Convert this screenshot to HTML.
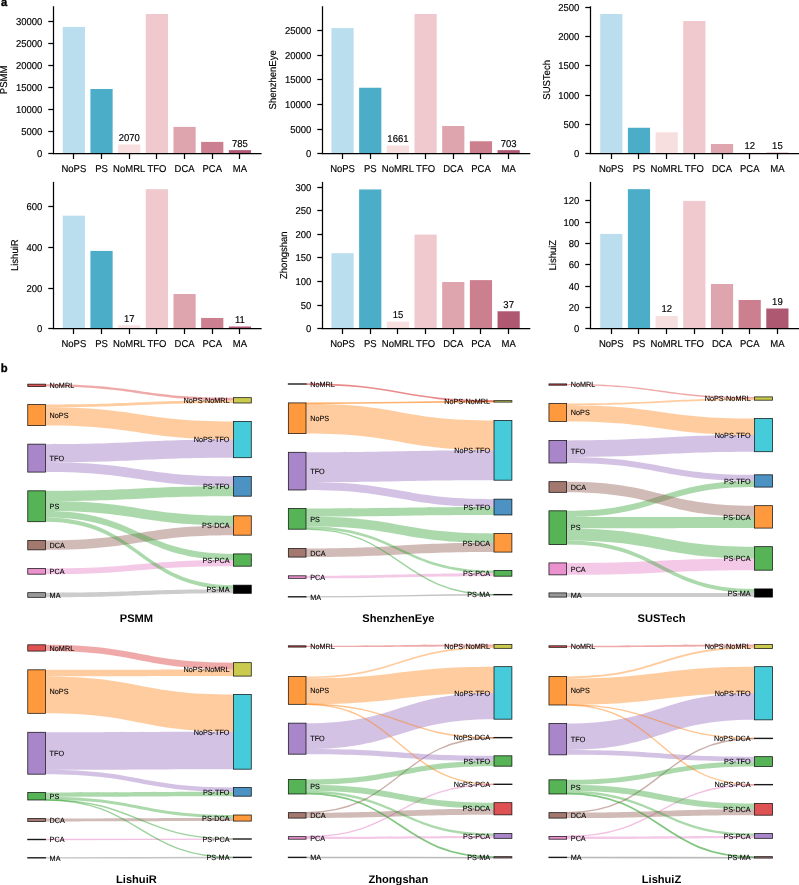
<!DOCTYPE html>
<html><head><meta charset="utf-8"><style>
html,body{margin:0;padding:0;background:#fff;width:799px;height:885px;overflow:hidden}
svg{display:block;will-change:transform}
text{text-rendering:geometricPrecision}
.t{font-family:"Liberation Sans", sans-serif;font-size:9.5px;fill:#000;stroke:#000;stroke-width:0.15}
.s{font-family:"Liberation Sans", sans-serif;font-size:7.25px;fill:#000;stroke:#000;stroke-width:0.1}
.tt{font-family:"Liberation Sans", sans-serif;font-size:11.1px;font-weight:bold;fill:#000}
.pl{font-family:"Liberation Sans", sans-serif;font-size:11.2px;font-weight:bold;fill:#000;stroke:#000;stroke-width:0.35}
.ax{stroke:#000;stroke-width:1.25;fill:none}
.nd{stroke:#000;stroke-opacity:0.85;stroke-width:0.8}
</style></head><body>
<svg width="799" height="885" viewBox="0 0 799 885">
<rect width="799" height="885" fill="#fff"/>
<rect x="62.75" y="26.89" width="22.2" height="126.61" fill="#badeed"/>
<rect x="90.43" y="89" width="22.2" height="64.5" fill="#4badc7"/>
<rect x="118.11" y="144.49" width="22.2" height="9.01" fill="#f8dfdf"/>
<text transform="translate(129.21,140.99) scale(1,1.05)" text-anchor="middle" class="t">2070</text>
<rect x="145.79" y="13.99" width="22.2" height="139.51" fill="#efc9cd"/>
<rect x="173.47" y="126.9" width="22.2" height="26.6" fill="#dfa5ae"/>
<rect x="201.15" y="141.9" width="22.2" height="11.6" fill="#cc7f8f"/>
<rect x="228.83" y="150.14" width="22.2" height="3.36" fill="#ae5872"/>
<text transform="translate(239.93,146.64) scale(1,1.05)" text-anchor="middle" class="t">785</text>
<line x1="53.5" y1="6.25" x2="53.5" y2="154.12" class="ax"/>
<line x1="52.88" y1="153.5" x2="261.61" y2="153.5" class="ax"/>
<line x1="48.3" y1="153.5" x2="53.5" y2="153.5" class="ax"/>
<text transform="translate(42.3,156.9) scale(1,1.05)" text-anchor="end" class="t">0</text>
<line x1="48.3" y1="131.5" x2="53.5" y2="131.5" class="ax"/>
<text transform="translate(42.3,134.9) scale(1,1.05)" text-anchor="end" class="t">5000</text>
<line x1="48.3" y1="109.5" x2="53.5" y2="109.5" class="ax"/>
<text transform="translate(42.3,112.9) scale(1,1.05)" text-anchor="end" class="t">10000</text>
<line x1="48.3" y1="87.5" x2="53.5" y2="87.5" class="ax"/>
<text transform="translate(42.3,90.9) scale(1,1.05)" text-anchor="end" class="t">15000</text>
<line x1="48.3" y1="65.5" x2="53.5" y2="65.5" class="ax"/>
<text transform="translate(42.3,68.9) scale(1,1.05)" text-anchor="end" class="t">20000</text>
<line x1="48.3" y1="43.5" x2="53.5" y2="43.5" class="ax"/>
<text transform="translate(42.3,46.9) scale(1,1.05)" text-anchor="end" class="t">25000</text>
<line x1="48.3" y1="21.5" x2="53.5" y2="21.5" class="ax"/>
<text transform="translate(42.3,24.9) scale(1,1.05)" text-anchor="end" class="t">30000</text>
<line x1="73.5" y1="153.5" x2="73.5" y2="159" class="ax"/>
<text transform="translate(73.85,172) scale(1,1.05)" text-anchor="middle" class="t">NoPS</text>
<line x1="101.5" y1="153.5" x2="101.5" y2="159" class="ax"/>
<text transform="translate(101.53,172) scale(1,1.05)" text-anchor="middle" class="t">PS</text>
<line x1="129.5" y1="153.5" x2="129.5" y2="159" class="ax"/>
<text transform="translate(129.21,172) scale(1,1.05)" text-anchor="middle" class="t">NoMRL</text>
<line x1="156.5" y1="153.5" x2="156.5" y2="159" class="ax"/>
<text transform="translate(156.89,172) scale(1,1.05)" text-anchor="middle" class="t">TFO</text>
<line x1="184.5" y1="153.5" x2="184.5" y2="159" class="ax"/>
<text transform="translate(184.57,172) scale(1,1.05)" text-anchor="middle" class="t">DCA</text>
<line x1="212.5" y1="153.5" x2="212.5" y2="159" class="ax"/>
<text transform="translate(212.25,172) scale(1,1.05)" text-anchor="middle" class="t">PCA</text>
<line x1="239.5" y1="153.5" x2="239.5" y2="159" class="ax"/>
<text transform="translate(239.93,172) scale(1,1.05)" text-anchor="middle" class="t">MA</text>
<text transform="translate(6.5,79.88) rotate(-90) scale(1,1.05)" text-anchor="middle" class="t">PSMM</text>
<rect x="331.45" y="28.1" width="22.2" height="125.4" fill="#badeed"/>
<rect x="359.13" y="87.75" width="22.2" height="65.75" fill="#4badc7"/>
<rect x="386.81" y="145.43" width="22.2" height="8.07" fill="#f8dfdf"/>
<text transform="translate(397.91,141.93) scale(1,1.05)" text-anchor="middle" class="t">1661</text>
<rect x="414.49" y="14" width="22.2" height="139.5" fill="#efc9cd"/>
<rect x="442.17" y="126" width="22.2" height="27.5" fill="#dfa5ae"/>
<rect x="469.85" y="141.25" width="22.2" height="12.25" fill="#cc7f8f"/>
<rect x="497.53" y="150.14" width="22.2" height="3.36" fill="#ae5872"/>
<text transform="translate(508.63,146.64) scale(1,1.05)" text-anchor="middle" class="t">703</text>
<line x1="322.5" y1="6.25" x2="322.5" y2="154.12" class="ax"/>
<line x1="321.88" y1="153.5" x2="530.31" y2="153.5" class="ax"/>
<line x1="317.3" y1="153.5" x2="322.5" y2="153.5" class="ax"/>
<text transform="translate(311.3,156.9) scale(1,1.05)" text-anchor="end" class="t">0</text>
<line x1="317.3" y1="129.5" x2="322.5" y2="129.5" class="ax"/>
<text transform="translate(311.3,132.9) scale(1,1.05)" text-anchor="end" class="t">5000</text>
<line x1="317.3" y1="104.5" x2="322.5" y2="104.5" class="ax"/>
<text transform="translate(311.3,107.9) scale(1,1.05)" text-anchor="end" class="t">10000</text>
<line x1="317.3" y1="79.5" x2="322.5" y2="79.5" class="ax"/>
<text transform="translate(311.3,82.9) scale(1,1.05)" text-anchor="end" class="t">15000</text>
<line x1="317.3" y1="55.5" x2="322.5" y2="55.5" class="ax"/>
<text transform="translate(311.3,58.9) scale(1,1.05)" text-anchor="end" class="t">20000</text>
<line x1="317.3" y1="30.5" x2="322.5" y2="30.5" class="ax"/>
<text transform="translate(311.3,33.9) scale(1,1.05)" text-anchor="end" class="t">25000</text>
<line x1="342.5" y1="153.5" x2="342.5" y2="159" class="ax"/>
<text transform="translate(342.55,172) scale(1,1.05)" text-anchor="middle" class="t">NoPS</text>
<line x1="370.5" y1="153.5" x2="370.5" y2="159" class="ax"/>
<text transform="translate(370.23,172) scale(1,1.05)" text-anchor="middle" class="t">PS</text>
<line x1="397.5" y1="153.5" x2="397.5" y2="159" class="ax"/>
<text transform="translate(397.91,172) scale(1,1.05)" text-anchor="middle" class="t">NoMRL</text>
<line x1="425.5" y1="153.5" x2="425.5" y2="159" class="ax"/>
<text transform="translate(425.59,172) scale(1,1.05)" text-anchor="middle" class="t">TFO</text>
<line x1="453.5" y1="153.5" x2="453.5" y2="159" class="ax"/>
<text transform="translate(453.27,172) scale(1,1.05)" text-anchor="middle" class="t">DCA</text>
<line x1="480.5" y1="153.5" x2="480.5" y2="159" class="ax"/>
<text transform="translate(480.95,172) scale(1,1.05)" text-anchor="middle" class="t">PCA</text>
<line x1="508.5" y1="153.5" x2="508.5" y2="159" class="ax"/>
<text transform="translate(508.63,172) scale(1,1.05)" text-anchor="middle" class="t">MA</text>
<text transform="translate(276.3,79.88) rotate(-90) scale(1,1.05)" text-anchor="middle" class="t">ShenzhenEye</text>
<rect x="600.2" y="13.99" width="22.2" height="139.51" fill="#badeed"/>
<rect x="627.88" y="127.77" width="22.2" height="25.73" fill="#4badc7"/>
<rect x="655.56" y="132.27" width="22.2" height="21.23" fill="#f8dfdf"/>
<rect x="683.24" y="21" width="22.2" height="132.5" fill="#efc9cd"/>
<rect x="710.92" y="144.02" width="22.2" height="9.48" fill="#dfa5ae"/>
<rect x="738.6" y="152.9" width="22.2" height="0.6" fill="#cc7f8f"/>
<text transform="translate(749.7,149.4) scale(1,1.05)" text-anchor="middle" class="t">12</text>
<rect x="766.28" y="152.72" width="22.2" height="0.78" fill="#ae5872"/>
<text transform="translate(777.38,149.22) scale(1,1.05)" text-anchor="middle" class="t">15</text>
<line x1="590.5" y1="6.25" x2="590.5" y2="154.12" class="ax"/>
<line x1="589.88" y1="153.5" x2="799.06" y2="153.5" class="ax"/>
<line x1="585.3" y1="153.5" x2="590.5" y2="153.5" class="ax"/>
<text transform="translate(579.3,156.9) scale(1,1.05)" text-anchor="end" class="t">0</text>
<line x1="585.3" y1="124.5" x2="590.5" y2="124.5" class="ax"/>
<text transform="translate(579.3,127.9) scale(1,1.05)" text-anchor="end" class="t">500</text>
<line x1="585.3" y1="95.5" x2="590.5" y2="95.5" class="ax"/>
<text transform="translate(579.3,98.9) scale(1,1.05)" text-anchor="end" class="t">1000</text>
<line x1="585.3" y1="65.5" x2="590.5" y2="65.5" class="ax"/>
<text transform="translate(579.3,68.9) scale(1,1.05)" text-anchor="end" class="t">1500</text>
<line x1="585.3" y1="36.5" x2="590.5" y2="36.5" class="ax"/>
<text transform="translate(579.3,39.9) scale(1,1.05)" text-anchor="end" class="t">2000</text>
<line x1="585.3" y1="7.5" x2="590.5" y2="7.5" class="ax"/>
<text transform="translate(579.3,10.9) scale(1,1.05)" text-anchor="end" class="t">2500</text>
<line x1="611.5" y1="153.5" x2="611.5" y2="159" class="ax"/>
<text transform="translate(611.3,172) scale(1,1.05)" text-anchor="middle" class="t">NoPS</text>
<line x1="638.5" y1="153.5" x2="638.5" y2="159" class="ax"/>
<text transform="translate(638.98,172) scale(1,1.05)" text-anchor="middle" class="t">PS</text>
<line x1="666.5" y1="153.5" x2="666.5" y2="159" class="ax"/>
<text transform="translate(666.66,172) scale(1,1.05)" text-anchor="middle" class="t">NoMRL</text>
<line x1="694.5" y1="153.5" x2="694.5" y2="159" class="ax"/>
<text transform="translate(694.34,172) scale(1,1.05)" text-anchor="middle" class="t">TFO</text>
<line x1="722.5" y1="153.5" x2="722.5" y2="159" class="ax"/>
<text transform="translate(722.02,172) scale(1,1.05)" text-anchor="middle" class="t">DCA</text>
<line x1="749.5" y1="153.5" x2="749.5" y2="159" class="ax"/>
<text transform="translate(749.7,172) scale(1,1.05)" text-anchor="middle" class="t">PCA</text>
<line x1="777.5" y1="153.5" x2="777.5" y2="159" class="ax"/>
<text transform="translate(777.38,172) scale(1,1.05)" text-anchor="middle" class="t">MA</text>
<text transform="translate(550,79.88) rotate(-90) scale(1,1.05)" text-anchor="middle" class="t">SUSTech</text>
<rect x="62.75" y="215.67" width="22.2" height="112.83" fill="#badeed"/>
<rect x="90.43" y="250.92" width="22.2" height="77.58" fill="#4badc7"/>
<rect x="118.11" y="325.29" width="22.2" height="3.21" fill="#f8dfdf"/>
<text transform="translate(129.21,321.79) scale(1,1.05)" text-anchor="middle" class="t">17</text>
<rect x="145.79" y="189.18" width="22.2" height="139.32" fill="#efc9cd"/>
<rect x="173.47" y="294.01" width="22.2" height="34.49" fill="#dfa5ae"/>
<rect x="201.15" y="317.95" width="22.2" height="10.55" fill="#cc7f8f"/>
<rect x="228.83" y="326.51" width="22.2" height="1.99" fill="#ae5872"/>
<text transform="translate(239.93,323.01) scale(1,1.05)" text-anchor="middle" class="t">11</text>
<line x1="53.5" y1="181.9" x2="53.5" y2="329.12" class="ax"/>
<line x1="52.88" y1="328.5" x2="261.61" y2="328.5" class="ax"/>
<line x1="48.3" y1="328.5" x2="53.5" y2="328.5" class="ax"/>
<text transform="translate(42.3,331.9) scale(1,1.05)" text-anchor="end" class="t">0</text>
<line x1="48.3" y1="288.5" x2="53.5" y2="288.5" class="ax"/>
<text transform="translate(42.3,291.9) scale(1,1.05)" text-anchor="end" class="t">200</text>
<line x1="48.3" y1="247.5" x2="53.5" y2="247.5" class="ax"/>
<text transform="translate(42.3,250.9) scale(1,1.05)" text-anchor="end" class="t">400</text>
<line x1="48.3" y1="206.5" x2="53.5" y2="206.5" class="ax"/>
<text transform="translate(42.3,209.9) scale(1,1.05)" text-anchor="end" class="t">600</text>
<line x1="73.5" y1="328.5" x2="73.5" y2="334" class="ax"/>
<text transform="translate(73.85,347) scale(1,1.05)" text-anchor="middle" class="t">NoPS</text>
<line x1="101.5" y1="328.5" x2="101.5" y2="334" class="ax"/>
<text transform="translate(101.53,347) scale(1,1.05)" text-anchor="middle" class="t">PS</text>
<line x1="129.5" y1="328.5" x2="129.5" y2="334" class="ax"/>
<text transform="translate(129.21,347) scale(1,1.05)" text-anchor="middle" class="t">NoMRL</text>
<line x1="156.5" y1="328.5" x2="156.5" y2="334" class="ax"/>
<text transform="translate(156.89,347) scale(1,1.05)" text-anchor="middle" class="t">TFO</text>
<line x1="184.5" y1="328.5" x2="184.5" y2="334" class="ax"/>
<text transform="translate(184.57,347) scale(1,1.05)" text-anchor="middle" class="t">DCA</text>
<line x1="212.5" y1="328.5" x2="212.5" y2="334" class="ax"/>
<text transform="translate(212.25,347) scale(1,1.05)" text-anchor="middle" class="t">PCA</text>
<line x1="239.5" y1="328.5" x2="239.5" y2="334" class="ax"/>
<text transform="translate(239.93,347) scale(1,1.05)" text-anchor="middle" class="t">MA</text>
<text transform="translate(18.1,255.2) rotate(-90) scale(1,1.05)" text-anchor="middle" class="t">LishuiR</text>
<rect x="331.45" y="253.2" width="22.2" height="75.3" fill="#badeed"/>
<rect x="359.13" y="189.46" width="22.2" height="139.04" fill="#4badc7"/>
<rect x="386.81" y="321.67" width="22.2" height="6.83" fill="#f8dfdf"/>
<text transform="translate(397.91,318.17) scale(1,1.05)" text-anchor="middle" class="t">15</text>
<rect x="414.49" y="234.6" width="22.2" height="93.9" fill="#efc9cd"/>
<rect x="442.17" y="282.01" width="22.2" height="46.49" fill="#dfa5ae"/>
<rect x="469.85" y="280.12" width="22.2" height="48.38" fill="#cc7f8f"/>
<rect x="497.53" y="311.28" width="22.2" height="17.22" fill="#ae5872"/>
<text transform="translate(508.63,307.78) scale(1,1.05)" text-anchor="middle" class="t">37</text>
<line x1="322.5" y1="181.9" x2="322.5" y2="329.12" class="ax"/>
<line x1="321.88" y1="328.5" x2="530.31" y2="328.5" class="ax"/>
<line x1="317.3" y1="328.5" x2="322.5" y2="328.5" class="ax"/>
<text transform="translate(311.3,331.9) scale(1,1.05)" text-anchor="end" class="t">0</text>
<line x1="317.3" y1="305.5" x2="322.5" y2="305.5" class="ax"/>
<text transform="translate(311.3,308.9) scale(1,1.05)" text-anchor="end" class="t">50</text>
<line x1="317.3" y1="281.5" x2="322.5" y2="281.5" class="ax"/>
<text transform="translate(311.3,284.9) scale(1,1.05)" text-anchor="end" class="t">100</text>
<line x1="317.3" y1="257.5" x2="322.5" y2="257.5" class="ax"/>
<text transform="translate(311.3,260.9) scale(1,1.05)" text-anchor="end" class="t">150</text>
<line x1="317.3" y1="234.5" x2="322.5" y2="234.5" class="ax"/>
<text transform="translate(311.3,237.9) scale(1,1.05)" text-anchor="end" class="t">200</text>
<line x1="317.3" y1="210.5" x2="322.5" y2="210.5" class="ax"/>
<text transform="translate(311.3,213.9) scale(1,1.05)" text-anchor="end" class="t">250</text>
<line x1="317.3" y1="187.5" x2="322.5" y2="187.5" class="ax"/>
<text transform="translate(311.3,190.9) scale(1,1.05)" text-anchor="end" class="t">300</text>
<line x1="342.5" y1="328.5" x2="342.5" y2="334" class="ax"/>
<text transform="translate(342.55,347) scale(1,1.05)" text-anchor="middle" class="t">NoPS</text>
<line x1="370.5" y1="328.5" x2="370.5" y2="334" class="ax"/>
<text transform="translate(370.23,347) scale(1,1.05)" text-anchor="middle" class="t">PS</text>
<line x1="397.5" y1="328.5" x2="397.5" y2="334" class="ax"/>
<text transform="translate(397.91,347) scale(1,1.05)" text-anchor="middle" class="t">NoMRL</text>
<line x1="425.5" y1="328.5" x2="425.5" y2="334" class="ax"/>
<text transform="translate(425.59,347) scale(1,1.05)" text-anchor="middle" class="t">TFO</text>
<line x1="453.5" y1="328.5" x2="453.5" y2="334" class="ax"/>
<text transform="translate(453.27,347) scale(1,1.05)" text-anchor="middle" class="t">DCA</text>
<line x1="480.5" y1="328.5" x2="480.5" y2="334" class="ax"/>
<text transform="translate(480.95,347) scale(1,1.05)" text-anchor="middle" class="t">PCA</text>
<line x1="508.5" y1="328.5" x2="508.5" y2="334" class="ax"/>
<text transform="translate(508.63,347) scale(1,1.05)" text-anchor="middle" class="t">MA</text>
<text transform="translate(286.9,255.2) rotate(-90) scale(1,1.05)" text-anchor="middle" class="t">Zhongshan</text>
<rect x="600.2" y="233.93" width="22.2" height="94.57" fill="#badeed"/>
<rect x="627.88" y="189.18" width="22.2" height="139.32" fill="#4badc7"/>
<rect x="655.56" y="315.96" width="22.2" height="12.54" fill="#f8dfdf"/>
<text transform="translate(666.66,312.46) scale(1,1.05)" text-anchor="middle" class="t">12</text>
<rect x="683.24" y="200.9" width="22.2" height="127.6" fill="#efc9cd"/>
<rect x="710.92" y="284" width="22.2" height="44.5" fill="#dfa5ae"/>
<rect x="738.6" y="299.98" width="22.2" height="28.52" fill="#cc7f8f"/>
<rect x="766.28" y="308.51" width="22.2" height="19.99" fill="#ae5872"/>
<text transform="translate(777.38,305.01) scale(1,1.05)" text-anchor="middle" class="t">19</text>
<line x1="590.5" y1="181.9" x2="590.5" y2="329.12" class="ax"/>
<line x1="589.88" y1="328.5" x2="799.06" y2="328.5" class="ax"/>
<line x1="585.3" y1="328.5" x2="590.5" y2="328.5" class="ax"/>
<text transform="translate(579.3,331.9) scale(1,1.05)" text-anchor="end" class="t">0</text>
<line x1="585.3" y1="307.5" x2="590.5" y2="307.5" class="ax"/>
<text transform="translate(579.3,310.9) scale(1,1.05)" text-anchor="end" class="t">20</text>
<line x1="585.3" y1="286.5" x2="590.5" y2="286.5" class="ax"/>
<text transform="translate(579.3,289.9) scale(1,1.05)" text-anchor="end" class="t">40</text>
<line x1="585.3" y1="264.5" x2="590.5" y2="264.5" class="ax"/>
<text transform="translate(579.3,267.9) scale(1,1.05)" text-anchor="end" class="t">60</text>
<line x1="585.3" y1="243.5" x2="590.5" y2="243.5" class="ax"/>
<text transform="translate(579.3,246.9) scale(1,1.05)" text-anchor="end" class="t">80</text>
<line x1="585.3" y1="222.5" x2="590.5" y2="222.5" class="ax"/>
<text transform="translate(579.3,225.9) scale(1,1.05)" text-anchor="end" class="t">100</text>
<line x1="585.3" y1="200.5" x2="590.5" y2="200.5" class="ax"/>
<text transform="translate(579.3,203.9) scale(1,1.05)" text-anchor="end" class="t">120</text>
<line x1="611.5" y1="328.5" x2="611.5" y2="334" class="ax"/>
<text transform="translate(611.3,347) scale(1,1.05)" text-anchor="middle" class="t">NoPS</text>
<line x1="638.5" y1="328.5" x2="638.5" y2="334" class="ax"/>
<text transform="translate(638.98,347) scale(1,1.05)" text-anchor="middle" class="t">PS</text>
<line x1="666.5" y1="328.5" x2="666.5" y2="334" class="ax"/>
<text transform="translate(666.66,347) scale(1,1.05)" text-anchor="middle" class="t">NoMRL</text>
<line x1="694.5" y1="328.5" x2="694.5" y2="334" class="ax"/>
<text transform="translate(694.34,347) scale(1,1.05)" text-anchor="middle" class="t">TFO</text>
<line x1="722.5" y1="328.5" x2="722.5" y2="334" class="ax"/>
<text transform="translate(722.02,347) scale(1,1.05)" text-anchor="middle" class="t">DCA</text>
<line x1="749.5" y1="328.5" x2="749.5" y2="334" class="ax"/>
<text transform="translate(749.7,347) scale(1,1.05)" text-anchor="middle" class="t">PCA</text>
<line x1="777.5" y1="328.5" x2="777.5" y2="334" class="ax"/>
<text transform="translate(777.38,347) scale(1,1.05)" text-anchor="middle" class="t">MA</text>
<text transform="translate(556.3,255.2) rotate(-90) scale(1,1.05)" text-anchor="middle" class="t">LishuiZ</text>
<text transform="translate(1,5.8) scale(1,1.05)" class="pl">a</text>
<text transform="translate(0.8,371.9) scale(1,1.05)" class="pl">b</text>
<path d="M45.4,404.5 C139.4,404.5 139.4,400.32 233.4,400.32 L233.4,403 C139.4,403 139.4,407.21 45.4,407.21 Z" fill="#ff7f0e" fill-opacity="0.4"/>
<path d="M45.4,384.15 C139.4,384.15 139.4,397.65 233.4,397.65 L233.4,400.32 C139.4,400.32 139.4,386.5 45.4,386.5 Z" fill="#d62728" fill-opacity="0.4"/>
<path d="M45.4,407.21 C139.4,407.21 139.4,421.4 233.4,421.4 L233.4,439.55 C139.4,439.55 139.4,425.6 45.4,425.6 Z" fill="#ff7f0e" fill-opacity="0.4"/>
<path d="M45.4,444.15 C139.4,444.15 139.4,439.55 233.4,439.55 L233.4,457.7 C139.4,457.7 139.4,462.24 45.4,462.24 Z" fill="#9467bd" fill-opacity="0.4"/>
<path d="M45.4,490.8 C139.4,490.8 139.4,486.3 233.4,486.3 L233.4,496.2 C139.4,496.2 139.4,501.05 45.4,501.05 Z" fill="#2ca02c" fill-opacity="0.4"/>
<path d="M45.4,462.24 C139.4,462.24 139.4,476.4 233.4,476.4 L233.4,486.3 C139.4,486.3 139.4,472.1 45.4,472.1 Z" fill="#9467bd" fill-opacity="0.4"/>
<path d="M45.4,501.05 C139.4,501.05 139.4,515.8 233.4,515.8 L233.4,525.5 C139.4,525.5 139.4,511.09 45.4,511.09 Z" fill="#2ca02c" fill-opacity="0.4"/>
<path d="M45.4,540.4 C139.4,540.4 139.4,525.5 233.4,525.5 L233.4,535.2 C139.4,535.2 139.4,549.85 45.4,549.85 Z" fill="#8c564b" fill-opacity="0.4"/>
<path d="M45.4,511.09 C139.4,511.09 139.4,553.9 233.4,553.9 L233.4,560.05 C139.4,560.05 139.4,517.46 45.4,517.46 Z" fill="#2ca02c" fill-opacity="0.4"/>
<path d="M45.4,568.5 C139.4,568.5 139.4,560.05 233.4,560.05 L233.4,566.2 C139.4,566.2 139.4,574.2 45.4,574.2 Z" fill="#e377c2" fill-opacity="0.4"/>
<path d="M45.4,517.46 C139.4,517.46 139.4,585.15 233.4,585.15 L233.4,589.25 C139.4,589.25 139.4,521.7 45.4,521.7 Z" fill="#2ca02c" fill-opacity="0.4"/>
<path d="M45.4,592.65 C139.4,592.65 139.4,589.25 233.4,589.25 L233.4,593.35 C139.4,593.35 139.4,597.35 45.4,597.35 Z" fill="#7f7f7f" fill-opacity="0.4"/>
<path d="M306,403.26 C400,403.26 400,401.74 494,401.74" fill="none" stroke="#ff7f0e" stroke-opacity="0.6" stroke-width="1.74"/>
<path d="M306,384.1 C400,384.1 400,401.01 494,401.01" fill="none" stroke="#d62728" stroke-opacity="0.54" stroke-width="1.58"/>
<path d="M306,403.63 C400,403.63 400,420.4 494,420.4 L494,450.3 C400,450.3 400,433.6 306,433.6 Z" fill="#ff7f0e" fill-opacity="0.4"/>
<path d="M306,452.3 C400,452.3 400,450.3 494,450.3 L494,480.2 C400,480.2 400,482.1 306,482.1 Z" fill="#9467bd" fill-opacity="0.4"/>
<path d="M306,508.5 C400,508.5 400,507.07 494,507.07 L494,515 C400,515 400,516.61 306,516.61 Z" fill="#2ca02c" fill-opacity="0.4"/>
<path d="M306,482.1 C400,482.1 400,499.15 494,499.15 L494,507.07 C400,507.07 400,490 306,490 Z" fill="#9467bd" fill-opacity="0.4"/>
<path d="M306,516.61 C400,516.61 400,533.5 494,533.5 L494,542.8 C400,542.8 400,526.13 306,526.13 Z" fill="#2ca02c" fill-opacity="0.4"/>
<path d="M306,548.5 C400,548.5 400,542.8 494,542.8 L494,552.1 C400,552.1 400,557.1 306,557.1 Z" fill="#8c564b" fill-opacity="0.4"/>
<path d="M306,526.13 C400,526.13 400,570.4 494,570.4 L494,573.3 C400,573.3 400,529.1 306,529.1 Z" fill="#2ca02c" fill-opacity="0.4"/>
<path d="M306,575.8 C400,575.8 400,573.3 494,573.3 L494,576.2 C400,576.2 400,578.35 306,578.35 Z" fill="#e377c2" fill-opacity="0.4"/>
<path d="M306,529.15 C400,529.15 400,594.7 494,594.7" fill="none" stroke="#2ca02c" stroke-opacity="0.47" stroke-width="1.36"/>
<path d="M306,596.85 C400,596.85 400,594.8 494,594.8" fill="none" stroke="#7f7f7f" stroke-opacity="0.47" stroke-width="1.36"/>
<path d="M566.6,403.5 C660.6,403.5 660.6,398.55 754.6,398.55 L754.6,400.2 C660.6,400.2 660.6,405.13 566.6,405.13 Z" fill="#ff7f0e" fill-opacity="0.4"/>
<path d="M566.6,383.9 C660.6,383.9 660.6,396.9 754.6,396.9 L754.6,398.55 C660.6,398.55 660.6,385.2 566.6,385.2 Z" fill="#d62728" fill-opacity="0.4"/>
<path d="M566.6,405.13 C660.6,405.13 660.6,418.5 754.6,418.5 L754.6,435.1 C660.6,435.1 660.6,421.5 566.6,421.5 Z" fill="#ff7f0e" fill-opacity="0.4"/>
<path d="M566.6,440.4 C660.6,440.4 660.6,435.1 754.6,435.1 L754.6,451.7 C660.6,451.7 660.6,456.89 566.6,456.89 Z" fill="#9467bd" fill-opacity="0.4"/>
<path d="M566.6,510.8 C660.6,510.8 660.6,480.95 754.6,480.95 L754.6,487.1 C660.6,487.1 660.6,517.05 566.6,517.05 Z" fill="#2ca02c" fill-opacity="0.4"/>
<path d="M566.6,456.89 C660.6,456.89 660.6,474.8 754.6,474.8 L754.6,480.95 C660.6,480.95 660.6,463 566.6,463 Z" fill="#9467bd" fill-opacity="0.4"/>
<path d="M566.6,517.05 C660.6,517.05 660.6,516.88 754.6,516.88 L754.6,528.1 C660.6,528.1 660.6,528.46 566.6,528.46 Z" fill="#2ca02c" fill-opacity="0.4"/>
<path d="M566.6,481.65 C660.6,481.65 660.6,505.65 754.6,505.65 L754.6,516.88 C660.6,516.88 660.6,492.35 566.6,492.35 Z" fill="#8c564b" fill-opacity="0.4"/>
<path d="M566.6,528.46 C660.6,528.46 660.6,546.65 754.6,546.65 L754.6,558.42 C660.6,558.42 660.6,540.43 566.6,540.43 Z" fill="#2ca02c" fill-opacity="0.4"/>
<path d="M566.6,562.9 C660.6,562.9 660.6,558.42 754.6,558.42 L754.6,570.2 C660.6,570.2 660.6,574.85 566.6,574.85 Z" fill="#e377c2" fill-opacity="0.4"/>
<path d="M566.6,540.43 C660.6,540.43 660.6,588.9 754.6,588.9 L754.6,593 C660.6,593 660.6,544.6 566.6,544.6 Z" fill="#2ca02c" fill-opacity="0.4"/>
<path d="M566.6,592.9 C660.6,592.9 660.6,593 754.6,593 L754.6,597.1 C660.6,597.1 660.6,597.1 566.6,597.1 Z" fill="#7f7f7f" fill-opacity="0.4"/>
<path d="M45.4,669.8 C139.4,669.8 139.4,669.38 233.4,669.38 L233.4,676.1 C139.4,676.1 139.4,676.44 45.4,676.44 Z" fill="#ff7f0e" fill-opacity="0.4"/>
<path d="M45.4,644.8 C139.4,644.8 139.4,662.65 233.4,662.65 L233.4,669.38 C139.4,669.38 139.4,651.1 45.4,651.1 Z" fill="#d62728" fill-opacity="0.4"/>
<path d="M45.4,676.44 C139.4,676.44 139.4,694.5 233.4,694.5 L233.4,731.85 C139.4,731.85 139.4,713.35 45.4,713.35 Z" fill="#ff7f0e" fill-opacity="0.4"/>
<path d="M45.4,732.3 C139.4,732.3 139.4,731.85 233.4,731.85 L233.4,769.2 C139.4,769.2 139.4,769.83 45.4,769.83 Z" fill="#9467bd" fill-opacity="0.4"/>
<path d="M45.4,792.5 C139.4,792.5 139.4,791.85 233.4,791.85 L233.4,796.2 C139.4,796.2 139.4,796.79 45.4,796.79 Z" fill="#2ca02c" fill-opacity="0.4"/>
<path d="M45.4,769.83 C139.4,769.83 139.4,787.5 233.4,787.5 L233.4,791.85 C139.4,791.85 139.4,774.2 45.4,774.2 Z" fill="#9467bd" fill-opacity="0.4"/>
<path d="M45.4,796.79 C139.4,796.79 139.4,815 233.4,815 L233.4,818.05 C139.4,818.05 139.4,799.8 45.4,799.8 Z" fill="#2ca02c" fill-opacity="0.4"/>
<path d="M45.4,818.5 C139.4,818.5 139.4,818.05 233.4,818.05 L233.4,821.1 C139.4,821.1 139.4,821.5 45.4,821.5 Z" fill="#8c564b" fill-opacity="0.4"/>
<path d="M45.4,799.85 C139.4,799.85 139.4,839.05 233.4,839.05" fill="none" stroke="#2ca02c" stroke-opacity="0.47" stroke-width="1.36"/>
<path d="M45.4,839.55 C139.4,839.55 139.4,839.15 233.4,839.15" fill="none" stroke="#e377c2" stroke-opacity="0.47" stroke-width="1.36"/>
<path d="M45.4,799.95 C139.4,799.95 139.4,857.45 233.4,857.45" fill="none" stroke="#2ca02c" stroke-opacity="0.47" stroke-width="1.36"/>
<path d="M45.4,857.85 C139.4,857.85 139.4,857.55 233.4,857.55" fill="none" stroke="#7f7f7f" stroke-opacity="0.47" stroke-width="1.36"/>
<path d="M306,676.4 C400,676.4 400,646.42 494,646.42 L494,648.35 C400,648.35 400,678.29 306,678.29 Z" fill="#ff7f0e" fill-opacity="0.4"/>
<path d="M306,645.8 C400,645.8 400,644.5 494,644.5 L494,646.42 C400,646.42 400,647.1 306,647.1 Z" fill="#d62728" fill-opacity="0.4"/>
<path d="M306,678.29 C400,678.29 400,666.65 494,666.65 L494,692.92 C400,692.92 400,704.15 306,704.15 Z" fill="#ff7f0e" fill-opacity="0.4"/>
<path d="M306,723.15 C400,723.15 400,692.92 494,692.92 L494,719.2 C400,719.2 400,749.07 306,749.07 Z" fill="#9467bd" fill-opacity="0.4"/>
<path d="M306,704.2 C400,704.2 400,737.7 494,737.7" fill="none" stroke="#ff7f0e" stroke-opacity="0.47" stroke-width="1.36"/>
<path d="M306,812.69 C400,812.69 400,737.8 494,737.8" fill="none" stroke="#8c564b" stroke-opacity="0.47" stroke-width="1.36"/>
<path d="M306,779.4 C400,779.4 400,761 494,761 L494,766.2 C400,766.2 400,784.67 306,784.67 Z" fill="#2ca02c" fill-opacity="0.4"/>
<path d="M306,749.07 C400,749.07 400,755.8 494,755.8 L494,761 C400,761 400,754.2 306,754.2 Z" fill="#9467bd" fill-opacity="0.4"/>
<path d="M306,704.3 C400,704.3 400,784.35 494,784.35" fill="none" stroke="#ff7f0e" stroke-opacity="0.47" stroke-width="1.36"/>
<path d="M306,836.7 C400,836.7 400,784.45 494,784.45" fill="none" stroke="#e377c2" stroke-opacity="0.47" stroke-width="1.36"/>
<path d="M306,784.67 C400,784.67 400,802.65 494,802.65 L494,808.75 C400,808.75 400,790.86 306,790.86 Z" fill="#2ca02c" fill-opacity="0.4"/>
<path d="M306,812.74 C400,812.74 400,808.75 494,808.75 L494,814.85 C400,814.85 400,818.1 306,818.1 Z" fill="#8c564b" fill-opacity="0.4"/>
<path d="M306,790.86 C400,790.86 400,833.5 494,833.5 L494,835.92 C400,835.92 400,793.32 306,793.32 Z" fill="#2ca02c" fill-opacity="0.4"/>
<path d="M306,836.75 C400,836.75 400,835.92 494,835.92 L494,838.35 C400,838.35 400,839.2 306,839.2 Z" fill="#e377c2" fill-opacity="0.4"/>
<path d="M306,793.66 C400,793.66 400,856.99 494,856.99" fill="none" stroke="#2ca02c" stroke-opacity="0.59" stroke-width="1.71"/>
<path d="M306,857.5 C400,857.5 400,857.66 494,857.66" fill="none" stroke="#7f7f7f" stroke-opacity="0.54" stroke-width="1.56"/>
<path d="M566.6,676.4 C660.6,676.4 660.6,646.55 754.6,646.55 L754.6,648.6 C660.6,648.6 660.6,678.43 566.6,678.43 Z" fill="#ff7f0e" fill-opacity="0.4"/>
<path d="M566.6,645.8 C660.6,645.8 660.6,644.5 754.6,644.5 L754.6,646.55 C660.6,646.55 660.6,647.35 566.6,647.35 Z" fill="#d62728" fill-opacity="0.4"/>
<path d="M566.6,678.43 C660.6,678.43 660.6,666.65 754.6,666.65 L754.6,693.25 C660.6,693.25 660.6,704.8 566.6,704.8 Z" fill="#ff7f0e" fill-opacity="0.4"/>
<path d="M566.6,723.5 C660.6,723.5 660.6,693.25 754.6,693.25 L754.6,719.85 C660.6,719.85 660.6,749.95 566.6,749.95 Z" fill="#9467bd" fill-opacity="0.4"/>
<path d="M566.6,704.85 C660.6,704.85 660.6,738.45 754.6,738.45" fill="none" stroke="#ff7f0e" stroke-opacity="0.47" stroke-width="1.36"/>
<path d="M566.6,812.7 C660.6,812.7 660.6,738.55 754.6,738.55" fill="none" stroke="#8c564b" stroke-opacity="0.47" stroke-width="1.36"/>
<path d="M566.6,779.8 C660.6,779.8 660.6,761.57 754.6,761.57 L754.6,766.5 C660.6,766.5 660.6,784.82 566.6,784.82 Z" fill="#2ca02c" fill-opacity="0.4"/>
<path d="M566.6,749.95 C660.6,749.95 660.6,756.65 754.6,756.65 L754.6,761.57 C660.6,761.57 660.6,754.85 566.6,754.85 Z" fill="#9467bd" fill-opacity="0.4"/>
<path d="M566.6,704.95 C660.6,704.95 660.6,784.7 754.6,784.7" fill="none" stroke="#ff7f0e" stroke-opacity="0.47" stroke-width="1.36"/>
<path d="M566.6,836.46 C660.6,836.46 660.6,784.8 754.6,784.8" fill="none" stroke="#e377c2" stroke-opacity="0.47" stroke-width="1.36"/>
<path d="M566.6,784.82 C660.6,784.82 660.6,803.5 754.6,803.5 L754.6,809.35 C660.6,809.35 660.6,790.79 566.6,790.79 Z" fill="#2ca02c" fill-opacity="0.4"/>
<path d="M566.6,812.74 C660.6,812.74 660.6,809.35 754.6,809.35 L754.6,815.2 C660.6,815.2 660.6,818.1 566.6,818.1 Z" fill="#8c564b" fill-opacity="0.4"/>
<path d="M566.6,790.79 C660.6,790.79 660.6,833.5 754.6,833.5 L754.6,835.92 C660.6,835.92 660.6,793.26 566.6,793.26 Z" fill="#2ca02c" fill-opacity="0.4"/>
<path d="M566.6,836.51 C660.6,836.51 660.6,835.92 754.6,835.92 L754.6,838.35 C660.6,838.35 660.6,839.2 566.6,839.2 Z" fill="#e377c2" fill-opacity="0.4"/>
<path d="M566.6,793.63 C660.6,793.63 660.6,857.01 754.6,857.01" fill="none" stroke="#2ca02c" stroke-opacity="0.6" stroke-width="1.74"/>
<path d="M566.6,857.5 C660.6,857.5 660.6,857.74 754.6,857.74" fill="none" stroke="#7f7f7f" stroke-opacity="0.54" stroke-width="1.58"/>
<rect x="27.75" y="384.15" width="17.65" height="2.35" fill="#d62728" fill-opacity="0.8" class="nd"/>
<rect x="27.75" y="404.5" width="17.65" height="21.1" fill="#ff7f0e" fill-opacity="0.8" class="nd"/>
<rect x="27.75" y="444.15" width="17.65" height="27.95" fill="#9467bd" fill-opacity="0.8" class="nd"/>
<rect x="27.75" y="490.8" width="17.65" height="30.9" fill="#2ca02c" fill-opacity="0.8" class="nd"/>
<rect x="27.75" y="540.4" width="17.65" height="9.45" fill="#8c564b" fill-opacity="0.8" class="nd"/>
<rect x="27.75" y="568.5" width="17.65" height="5.7" fill="#e377c2" fill-opacity="0.8" class="nd"/>
<rect x="27.75" y="592.65" width="17.65" height="4.7" fill="#7f7f7f" fill-opacity="0.8" class="nd"/>
<rect x="233.4" y="397.65" width="17.9" height="5.35" fill="#bcbd22" fill-opacity="0.8" class="nd"/>
<rect x="233.4" y="421.4" width="17.9" height="36.3" fill="#17becf" fill-opacity="0.8" class="nd"/>
<rect x="233.4" y="476.4" width="17.9" height="19.8" fill="#1f77b4" fill-opacity="0.8" class="nd"/>
<rect x="233.4" y="515.8" width="17.9" height="19.4" fill="#ff7f0e" fill-opacity="0.8" class="nd"/>
<rect x="233.4" y="553.9" width="17.9" height="12.3" fill="#2ca02c" fill-opacity="0.8" class="nd"/>
<rect x="233.4" y="585.15" width="17.9" height="8.2" fill="#000000" fill-opacity="1" class="nd"/>
<line x1="287.85" y1="384" x2="306.5" y2="384" stroke="#000" stroke-opacity="0.9" stroke-width="1.4"/>
<rect x="288.35" y="402.9" width="17.65" height="30.7" fill="#ff7f0e" fill-opacity="0.8" class="nd"/>
<rect x="288.35" y="452.3" width="17.65" height="37.7" fill="#9467bd" fill-opacity="0.8" class="nd"/>
<rect x="288.35" y="508.5" width="17.65" height="20.7" fill="#2ca02c" fill-opacity="0.8" class="nd"/>
<rect x="288.35" y="548.5" width="17.65" height="8.6" fill="#8c564b" fill-opacity="0.8" class="nd"/>
<rect x="288.35" y="575.8" width="17.65" height="2.55" fill="#e377c2" fill-opacity="0.8" class="nd"/>
<line x1="287.85" y1="596.8" x2="306.5" y2="596.8" stroke="#000" stroke-opacity="0.9" stroke-width="1.4"/>
<rect x="494" y="400.65" width="17.9" height="1.45" fill="#bcbd22" fill-opacity="0.8" class="nd"/>
<rect x="494" y="420.4" width="17.9" height="59.8" fill="#17becf" fill-opacity="0.8" class="nd"/>
<rect x="494" y="499.15" width="17.9" height="15.85" fill="#1f77b4" fill-opacity="0.8" class="nd"/>
<rect x="494" y="533.5" width="17.9" height="18.6" fill="#ff7f0e" fill-opacity="0.8" class="nd"/>
<rect x="494" y="570.4" width="17.9" height="5.8" fill="#2ca02c" fill-opacity="0.8" class="nd"/>
<line x1="493.5" y1="594.65" x2="512.4" y2="594.65" stroke="#000" stroke-opacity="0.9" stroke-width="1.4"/>
<rect x="548.95" y="383.9" width="17.65" height="1.3" fill="#d62728" fill-opacity="0.8" class="nd"/>
<rect x="548.95" y="403.5" width="17.65" height="18" fill="#ff7f0e" fill-opacity="0.8" class="nd"/>
<rect x="548.95" y="440.4" width="17.65" height="22.6" fill="#9467bd" fill-opacity="0.8" class="nd"/>
<rect x="548.95" y="481.65" width="17.65" height="10.7" fill="#8c564b" fill-opacity="0.8" class="nd"/>
<rect x="548.95" y="510.8" width="17.65" height="33.8" fill="#2ca02c" fill-opacity="0.8" class="nd"/>
<rect x="548.95" y="562.9" width="17.65" height="11.95" fill="#e377c2" fill-opacity="0.8" class="nd"/>
<rect x="548.95" y="592.9" width="17.65" height="4.2" fill="#7f7f7f" fill-opacity="0.8" class="nd"/>
<rect x="754.6" y="396.9" width="17.9" height="3.3" fill="#bcbd22" fill-opacity="0.8" class="nd"/>
<rect x="754.6" y="418.5" width="17.9" height="33.2" fill="#17becf" fill-opacity="0.8" class="nd"/>
<rect x="754.6" y="474.8" width="17.9" height="12.3" fill="#1f77b4" fill-opacity="0.8" class="nd"/>
<rect x="754.6" y="505.65" width="17.9" height="22.45" fill="#ff7f0e" fill-opacity="0.8" class="nd"/>
<rect x="754.6" y="546.65" width="17.9" height="23.55" fill="#2ca02c" fill-opacity="0.8" class="nd"/>
<rect x="754.6" y="588.9" width="17.9" height="8.2" fill="#000000" fill-opacity="1" class="nd"/>
<rect x="27.75" y="644.8" width="17.65" height="6.3" fill="#d62728" fill-opacity="0.8" class="nd"/>
<rect x="27.75" y="669.8" width="17.65" height="43.55" fill="#ff7f0e" fill-opacity="0.8" class="nd"/>
<rect x="27.75" y="732.3" width="17.65" height="41.9" fill="#9467bd" fill-opacity="0.8" class="nd"/>
<rect x="27.75" y="792.5" width="17.65" height="7.5" fill="#2ca02c" fill-opacity="0.8" class="nd"/>
<rect x="27.75" y="818.5" width="17.65" height="3" fill="#8c564b" fill-opacity="0.8" class="nd"/>
<line x1="27.25" y1="839.5" x2="45.9" y2="839.5" stroke="#000" stroke-opacity="0.9" stroke-width="1.4"/>
<line x1="27.25" y1="857.8" x2="45.9" y2="857.8" stroke="#000" stroke-opacity="0.9" stroke-width="1.4"/>
<rect x="233.4" y="662.65" width="17.9" height="13.45" fill="#bcbd22" fill-opacity="0.8" class="nd"/>
<rect x="233.4" y="694.5" width="17.9" height="74.7" fill="#17becf" fill-opacity="0.8" class="nd"/>
<rect x="233.4" y="787.5" width="17.9" height="8.7" fill="#1f77b4" fill-opacity="0.8" class="nd"/>
<rect x="233.4" y="815" width="17.9" height="6.1" fill="#ff7f0e" fill-opacity="0.8" class="nd"/>
<line x1="232.9" y1="839" x2="251.8" y2="839" stroke="#000" stroke-opacity="0.9" stroke-width="1.4"/>
<line x1="232.9" y1="857.4" x2="251.8" y2="857.4" stroke="#000" stroke-opacity="0.9" stroke-width="1.4"/>
<rect x="288.35" y="645.8" width="17.65" height="1.3" fill="#d62728" fill-opacity="0.8" class="nd"/>
<rect x="288.35" y="676.4" width="17.65" height="27.95" fill="#ff7f0e" fill-opacity="0.8" class="nd"/>
<rect x="288.35" y="723.15" width="17.65" height="31.05" fill="#9467bd" fill-opacity="0.8" class="nd"/>
<rect x="288.35" y="779.4" width="17.65" height="14.6" fill="#2ca02c" fill-opacity="0.8" class="nd"/>
<rect x="288.35" y="812.65" width="17.65" height="5.45" fill="#8c564b" fill-opacity="0.8" class="nd"/>
<rect x="288.35" y="836.65" width="17.65" height="2.55" fill="#e377c2" fill-opacity="0.8" class="nd"/>
<line x1="287.85" y1="857.4" x2="306.5" y2="857.4" stroke="#000" stroke-opacity="0.9" stroke-width="1.4"/>
<rect x="494" y="644.5" width="17.9" height="3.85" fill="#bcbd22" fill-opacity="0.8" class="nd"/>
<rect x="494" y="666.65" width="17.9" height="52.55" fill="#17becf" fill-opacity="0.8" class="nd"/>
<line x1="493.5" y1="737.65" x2="512.4" y2="737.65" stroke="#000" stroke-opacity="0.9" stroke-width="1.4"/>
<rect x="494" y="755.8" width="17.9" height="10.4" fill="#2ca02c" fill-opacity="0.8" class="nd"/>
<line x1="493.5" y1="784.3" x2="512.4" y2="784.3" stroke="#000" stroke-opacity="0.9" stroke-width="1.4"/>
<rect x="494" y="802.65" width="17.9" height="12.2" fill="#d62728" fill-opacity="0.8" class="nd"/>
<rect x="494" y="833.5" width="17.9" height="4.85" fill="#9467bd" fill-opacity="0.8" class="nd"/>
<rect x="494" y="856.65" width="17.9" height="1.35" fill="#8c564b" fill-opacity="0.8" class="nd"/>
<rect x="548.95" y="645.8" width="17.65" height="1.55" fill="#d62728" fill-opacity="0.8" class="nd"/>
<rect x="548.95" y="676.4" width="17.65" height="28.6" fill="#ff7f0e" fill-opacity="0.8" class="nd"/>
<rect x="548.95" y="723.5" width="17.65" height="31.35" fill="#9467bd" fill-opacity="0.8" class="nd"/>
<rect x="548.95" y="779.8" width="17.65" height="14.2" fill="#2ca02c" fill-opacity="0.8" class="nd"/>
<rect x="548.95" y="812.65" width="17.65" height="5.45" fill="#8c564b" fill-opacity="0.8" class="nd"/>
<rect x="548.95" y="836.4" width="17.65" height="2.8" fill="#e377c2" fill-opacity="0.8" class="nd"/>
<line x1="548.45" y1="857.4" x2="567.1" y2="857.4" stroke="#000" stroke-opacity="0.9" stroke-width="1.4"/>
<rect x="754.6" y="644.5" width="17.9" height="4.1" fill="#bcbd22" fill-opacity="0.8" class="nd"/>
<rect x="754.6" y="666.65" width="17.9" height="53.2" fill="#17becf" fill-opacity="0.8" class="nd"/>
<line x1="754.1" y1="738.4" x2="773" y2="738.4" stroke="#000" stroke-opacity="0.9" stroke-width="1.4"/>
<rect x="754.6" y="756.65" width="17.9" height="9.85" fill="#2ca02c" fill-opacity="0.8" class="nd"/>
<line x1="754.1" y1="784.65" x2="773" y2="784.65" stroke="#000" stroke-opacity="0.9" stroke-width="1.4"/>
<rect x="754.6" y="803.5" width="17.9" height="11.7" fill="#d62728" fill-opacity="0.8" class="nd"/>
<rect x="754.6" y="833.5" width="17.9" height="4.85" fill="#9467bd" fill-opacity="0.8" class="nd"/>
<rect x="754.6" y="856.65" width="17.9" height="1.45" fill="#8c564b" fill-opacity="0.8" class="nd"/>
<text transform="translate(49.6,388.02) scale(1,1.05)" class="s">NoMRL</text>
<text transform="translate(49.6,417.75) scale(1,1.05)" class="s">NoPS</text>
<text transform="translate(49.6,460.82) scale(1,1.05)" class="s">TFO</text>
<text transform="translate(49.6,508.95) scale(1,1.05)" class="s">PS</text>
<text transform="translate(49.6,547.83) scale(1,1.05)" class="s">DCA</text>
<text transform="translate(49.6,574.05) scale(1,1.05)" class="s">PCA</text>
<text transform="translate(49.6,597.7) scale(1,1.05)" class="s">MA</text>
<text transform="translate(229.5,403.02) scale(1,1.05)" text-anchor="end" class="s">NoPS-NoMRL</text>
<text transform="translate(229.5,442.25) scale(1,1.05)" text-anchor="end" class="s">NoPS-TFO</text>
<text transform="translate(229.5,489) scale(1,1.05)" text-anchor="end" class="s">PS-TFO</text>
<text transform="translate(229.5,528.2) scale(1,1.05)" text-anchor="end" class="s">PS-DCA</text>
<text transform="translate(229.5,562.75) scale(1,1.05)" text-anchor="end" class="s">PS-PCA</text>
<text transform="translate(229.5,591.95) scale(1,1.05)" text-anchor="end" class="s">PS-MA</text>
<text transform="translate(136.4,622.25)" text-anchor="middle" class="tt">PSMM</text>
<text transform="translate(310.2,386.8) scale(1,1.05)" class="s">NoMRL</text>
<text transform="translate(310.2,420.95) scale(1,1.05)" class="s">NoPS</text>
<text transform="translate(310.2,473.85) scale(1,1.05)" class="s">TFO</text>
<text transform="translate(310.2,521.55) scale(1,1.05)" class="s">PS</text>
<text transform="translate(310.2,555.5) scale(1,1.05)" class="s">DCA</text>
<text transform="translate(310.2,579.77) scale(1,1.05)" class="s">PCA</text>
<text transform="translate(310.2,599.6) scale(1,1.05)" class="s">MA</text>
<text transform="translate(490.1,404.07) scale(1,1.05)" text-anchor="end" class="s">NoPS-NoMRL</text>
<text transform="translate(490.1,453) scale(1,1.05)" text-anchor="end" class="s">NoPS-TFO</text>
<text transform="translate(490.1,509.77) scale(1,1.05)" text-anchor="end" class="s">PS-TFO</text>
<text transform="translate(490.1,545.5) scale(1,1.05)" text-anchor="end" class="s">PS-DCA</text>
<text transform="translate(490.1,576) scale(1,1.05)" text-anchor="end" class="s">PS-PCA</text>
<text transform="translate(490.1,597.45) scale(1,1.05)" text-anchor="end" class="s">PS-MA</text>
<text transform="translate(398.4,622.25)" text-anchor="middle" class="tt">ShenzhenEye</text>
<text transform="translate(570.8,387.25) scale(1,1.05)" class="s">NoMRL</text>
<text transform="translate(570.8,415.2) scale(1,1.05)" class="s">NoPS</text>
<text transform="translate(570.8,454.4) scale(1,1.05)" class="s">TFO</text>
<text transform="translate(570.8,489.7) scale(1,1.05)" class="s">DCA</text>
<text transform="translate(570.8,530.4) scale(1,1.05)" class="s">PS</text>
<text transform="translate(570.8,571.58) scale(1,1.05)" class="s">PCA</text>
<text transform="translate(570.8,597.7) scale(1,1.05)" class="s">MA</text>
<text transform="translate(750.7,401.25) scale(1,1.05)" text-anchor="end" class="s">NoPS-NoMRL</text>
<text transform="translate(750.7,437.8) scale(1,1.05)" text-anchor="end" class="s">NoPS-TFO</text>
<text transform="translate(750.7,483.65) scale(1,1.05)" text-anchor="end" class="s">PS-TFO</text>
<text transform="translate(750.7,519.58) scale(1,1.05)" text-anchor="end" class="s">PS-DCA</text>
<text transform="translate(750.7,561.12) scale(1,1.05)" text-anchor="end" class="s">PS-PCA</text>
<text transform="translate(750.7,595.7) scale(1,1.05)" text-anchor="end" class="s">PS-MA</text>
<text transform="translate(661.5,622.25)" text-anchor="middle" class="tt">SUSTech</text>
<text transform="translate(49.6,650.65) scale(1,1.05)" class="s">NoMRL</text>
<text transform="translate(49.6,694.27) scale(1,1.05)" class="s">NoPS</text>
<text transform="translate(49.6,755.95) scale(1,1.05)" class="s">TFO</text>
<text transform="translate(49.6,798.95) scale(1,1.05)" class="s">PS</text>
<text transform="translate(49.6,822.7) scale(1,1.05)" class="s">DCA</text>
<text transform="translate(49.6,842.3) scale(1,1.05)" class="s">PCA</text>
<text transform="translate(49.6,860.6) scale(1,1.05)" class="s">MA</text>
<text transform="translate(229.5,672.08) scale(1,1.05)" text-anchor="end" class="s">NoPS-NoMRL</text>
<text transform="translate(229.5,734.55) scale(1,1.05)" text-anchor="end" class="s">NoPS-TFO</text>
<text transform="translate(229.5,794.55) scale(1,1.05)" text-anchor="end" class="s">PS-TFO</text>
<text transform="translate(229.5,820.75) scale(1,1.05)" text-anchor="end" class="s">PS-DCA</text>
<text transform="translate(229.5,841.8) scale(1,1.05)" text-anchor="end" class="s">PS-PCA</text>
<text transform="translate(229.5,860.2) scale(1,1.05)" text-anchor="end" class="s">PS-MA</text>
<text transform="translate(136.4,882.5)" text-anchor="middle" class="tt">LishuiR</text>
<text transform="translate(310.2,649.15) scale(1,1.05)" class="s">NoMRL</text>
<text transform="translate(310.2,693.08) scale(1,1.05)" class="s">NoPS</text>
<text transform="translate(310.2,741.38) scale(1,1.05)" class="s">TFO</text>
<text transform="translate(310.2,789.4) scale(1,1.05)" class="s">PS</text>
<text transform="translate(310.2,818.08) scale(1,1.05)" class="s">DCA</text>
<text transform="translate(310.2,840.62) scale(1,1.05)" class="s">PCA</text>
<text transform="translate(310.2,860.2) scale(1,1.05)" class="s">MA</text>
<text transform="translate(490.1,649.12) scale(1,1.05)" text-anchor="end" class="s">NoPS-NoMRL</text>
<text transform="translate(490.1,695.62) scale(1,1.05)" text-anchor="end" class="s">NoPS-TFO</text>
<text transform="translate(490.1,740.45) scale(1,1.05)" text-anchor="end" class="s">NoPS-DCA</text>
<text transform="translate(490.1,763.7) scale(1,1.05)" text-anchor="end" class="s">PS-TFO</text>
<text transform="translate(490.1,787.1) scale(1,1.05)" text-anchor="end" class="s">NoPS-PCA</text>
<text transform="translate(490.1,811.45) scale(1,1.05)" text-anchor="end" class="s">PS-DCA</text>
<text transform="translate(490.1,838.62) scale(1,1.05)" text-anchor="end" class="s">PS-PCA</text>
<text transform="translate(490.1,860.02) scale(1,1.05)" text-anchor="end" class="s">PS-MA</text>
<text transform="translate(398.4,882.5)" text-anchor="middle" class="tt">Zhongshan</text>
<text transform="translate(570.8,649.27) scale(1,1.05)" class="s">NoMRL</text>
<text transform="translate(570.8,693.4) scale(1,1.05)" class="s">NoPS</text>
<text transform="translate(570.8,741.88) scale(1,1.05)" class="s">TFO</text>
<text transform="translate(570.8,789.6) scale(1,1.05)" class="s">PS</text>
<text transform="translate(570.8,818.08) scale(1,1.05)" class="s">DCA</text>
<text transform="translate(570.8,840.5) scale(1,1.05)" class="s">PCA</text>
<text transform="translate(570.8,860.2) scale(1,1.05)" class="s">MA</text>
<text transform="translate(750.7,649.25) scale(1,1.05)" text-anchor="end" class="s">NoPS-NoMRL</text>
<text transform="translate(750.7,695.95) scale(1,1.05)" text-anchor="end" class="s">NoPS-TFO</text>
<text transform="translate(750.7,741.2) scale(1,1.05)" text-anchor="end" class="s">NoPS-DCA</text>
<text transform="translate(750.7,764.27) scale(1,1.05)" text-anchor="end" class="s">PS-TFO</text>
<text transform="translate(750.7,787.45) scale(1,1.05)" text-anchor="end" class="s">NoPS-PCA</text>
<text transform="translate(750.7,812.05) scale(1,1.05)" text-anchor="end" class="s">PS-DCA</text>
<text transform="translate(750.7,838.62) scale(1,1.05)" text-anchor="end" class="s">PS-PCA</text>
<text transform="translate(750.7,860.08) scale(1,1.05)" text-anchor="end" class="s">PS-MA</text>
<text transform="translate(661.5,882.5)" text-anchor="middle" class="tt">LishuiZ</text>
</svg>
</body></html>
